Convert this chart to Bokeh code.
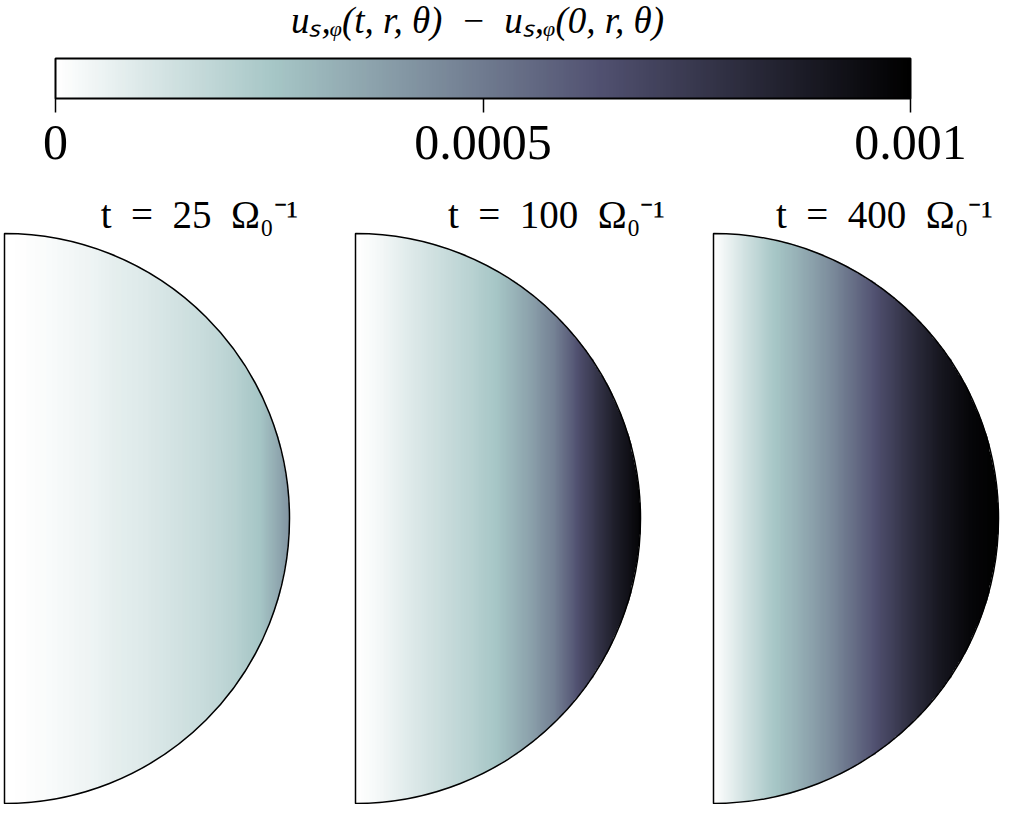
import numpy as np
from bokeh.plotting import figure
from bokeh.models import (Range1d, LinearColorMapper, ColorBar, FixedTicker,
                          CustomJSTickFormatter, Label)
from bokeh.core.properties import value
from bokeh.embed import file_html
from bokeh.resources import INLINE

# ---- data: profiles of the azimuthal-velocity change vs cylindrical radius s ----
s_pts = [0.0, 0.1, 0.2, 0.3, 0.4, 0.5, 0.6, 0.7, 0.8, 0.9, 1.0]
u_t25 = [0.0, 0.00001, 0.00003, 0.00005, 0.00008, 0.00010, 0.00013, 0.00016, 0.00020, 0.00026, 0.00042]
u_t100 = [0.0, 0.00004, 0.00010, 0.00015, 0.00020, 0.00026, 0.00036, 0.00048, 0.00068, 0.00085, 0.00098]
u_t400 = [0.0, 0.00012, 0.00024, 0.00033, 0.00043, 0.00055, 0.00068, 0.00080, 0.00090, 0.00097, 0.00100]
times = ["25", "100", "400"]
profiles = [u_t25, u_t100, u_t400]
cbar_ticks = [0.0, 0.0005, 0.001]
cbar_title = "uₛ,ᵩ(t, r, θ)\u2002−\u2002uₛ,ᵩ(0, r, θ)"

# ---- bone_r colormap ----
def _seg(x, pts):
    return np.interp(x, [a for a, b in pts], [b for a, b in pts])

xs = np.linspace(1, 0, 256)
R = _seg(xs, [(0, 0), (0.746032, 0.652778), (1, 1)])
G = _seg(xs, [(0, 0), (0.365079, 0.319444), (0.746032, 0.777778), (1, 1)])
B = _seg(xs, [(0, 0), (0.365079, 0.444444), (1, 1)])
bone_r = ["#%02x%02x%02x" % (int(round(r * 255)), int(round(g * 255)), int(round(b * 255)))
          for r, g, b in zip(R, G, B)]

mapper = LinearColorMapper(palette=bone_r, low=0.0, high=0.001, nan_color=(0, 0, 0, 0))

# ---- layout (1 data unit = sphere radius) ----
W, H = 1000, 804
px = 285.0          # pixels per radius
x0_px, yc_px = 4.0, 518.0
def dx(v):
    return (v - x0_px) / px
def dy(v):
    return (yc_px - v) / px

offsets = [dx(4), dx(355), dx(713)]
title_x = [dx(199), dx(556), dx(884)]

p = figure(width=W, height=H, output_backend="svg", toolbar_location=None,
           x_range=Range1d(dx(0), dx(W)), y_range=Range1d(dy(H), dy(0)),
           x_axis_type=None, y_axis_type=None, min_border=0)
p.grid.visible = False
p.outline_line_color = None
p.background_fill_color = "white"

nx, ny = 300, 600
gx = (np.arange(nx) + 0.5) / nx
gy = -1 + (np.arange(ny) + 0.5) / ny * 2
X, Y = np.meshgrid(gx, gy)
inside = X ** 2 + Y ** 2 <= 1.0

for off, tx, prof, t in zip(offsets, title_x, profiles, times):
    img = np.interp(X, s_pts, prof)
    img = np.where(inside, img, np.nan)
    p.image(image=[img], x=off, y=-1, dw=1, dh=2, color_mapper=mapper)
    p.wedge(x=off, y=0, radius=1, start_angle=-np.pi / 2, end_angle=np.pi / 2,
            fill_color=None, line_color="black", line_width=1.5)
    p.text(x=[tx], y=[dy(214)], text=["t\u2002=\u2002%s\u2002Ω₀⁻¹" % t],
           text_font=value("Liberation Serif"), text_font_size="39px",
           text_align="center", text_baseline="alphabetic", text_color="black")

cb = ColorBar(color_mapper=mapper, orientation="horizontal", width=855, height=40,
              location=(55, 643), padding=0,
              ticker=FixedTicker(ticks=cbar_ticks),
              formatter=CustomJSTickFormatter(code="return tick.toString()"),
              major_label_text_font="Liberation Serif", major_label_text_font_size="50px",
              major_label_text_color="black",
              major_tick_in=0, major_tick_out=14, major_tick_line_color="black",
              major_tick_line_width=1.5, label_standoff=13,
              bar_line_color="black", bar_line_width=2,
              background_fill_alpha=0, border_line_color=None)
p.add_layout(cb, "center")

p.add_layout(Label(x=477, y=H - 20, x_units="screen", y_units="screen", text=cbar_title,
                   text_font="Liberation Serif", text_font_style="italic",
                   text_font_size="37px", text_align="center", text_baseline="middle",
                   text_color="black"))

open("out.html", "w").write(file_html(p, INLINE))
